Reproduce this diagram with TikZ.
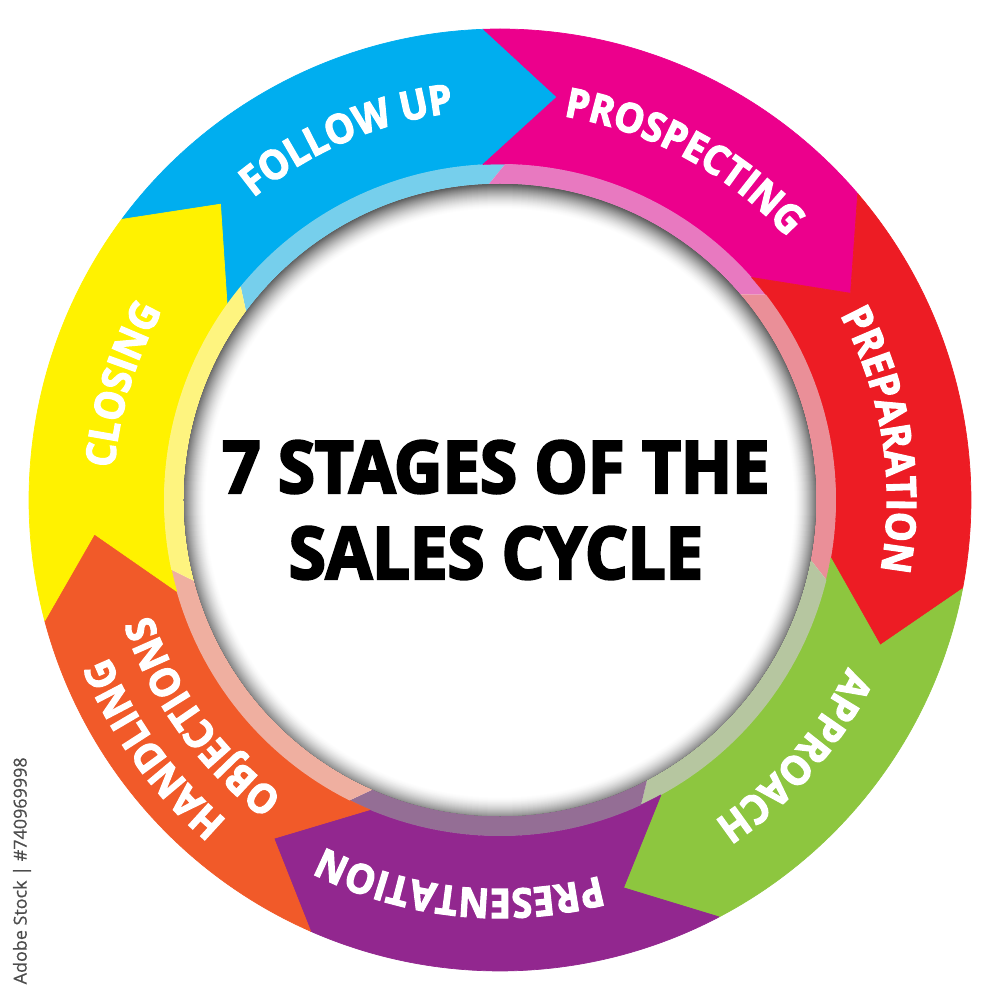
\documentclass[tikz,border=0pt]{standalone}
\usepackage{fontspec}
\setmainfont{Open Sans}
\newfontfamily\HeavyFont[FakeBold=2.8,FakeStretch=0.92]{Open Sans Bold}
\newfontfamily\TitleFont[FakeBold=3.5,FakeStretch=0.93]{Open Sans Bold}
\newfontfamily\CreditFont[FakeBold=0.5]{Open Sans}
\usetikzlibrary{decorations.text}
\definecolor{FollowCol}{HTML}{00AEEF}
\definecolor{ProspectCol}{HTML}{EC008C}
\definecolor{PrepareCol}{HTML}{ED1C24}
\definecolor{ApproachCol}{HTML}{8DC63F}
\definecolor{PresentCol}{HTML}{92278F}
\definecolor{HandleCol}{HTML}{F15A29}
\definecolor{CloseCol}{HTML}{FFF200}
\definecolor{FollowPale}{HTML}{76CFEC}
\definecolor{ProspectPale}{HTML}{E879C0}
\definecolor{PreparePale}{HTML}{EA8F98}
\definecolor{ApproachPale}{HTML}{B6C6A0}
\definecolor{PresentPale}{HTML}{946E95}
\definecolor{HandlePale}{HTML}{EFAFA0}
\definecolor{ClosePale}{HTML}{FEF47F}
\tikzstyle{Stage} = [line width=0.2pt, line join=round]
\tikzstyle{Title} = [font=\TitleFont\fontsize{20.5}{25}\selectfont]
\newcommand{\StageLabel}[3]{%
  \path[decorate, decoration={text along path, text align=center,
    text={|\HeavyFont\fontsize{11.6}{14}\selectfont\color{white}|#3}}]
    (#1+45:#2) arc[start angle=#1+45, end angle=#1-45, radius=#2];}

\begin{document}
\begin{tikzpicture}[scale=0.01]
    \useasboundingbox (-500,-500) rectangle (500,500);

    \foreach \head/\tone in {92/Follow, 40.57/Prospect, -10.86/Prepare,
        -62.29/Approach, -113.71/Present, -165.14/Handle, 143.43/Close} {
      \draw[Stage, draw=\tone Col, fill=\tone Col]
        (\head+51.43:471) arc[start angle=\head+51.43, end angle=\head, radius=471]
        -- (\head-10.05:407) -- (\head+0.9:336)
        arc[start angle=\head+0.9, end angle=\head+52.33, radius=336]
        -- (\head+41.38:407) -- cycle;
      \fill[\tone Pale]
        (\head-2.9:336) arc[start angle=\head-2.9, end angle=\head+48.53, radius=336]
        -- (\head+52.43:310)
        arc[start angle=\head+52.43, end angle=\head+1, radius=310] -- cycle;
    }

    \begin{scope}
      \clip (0,0) circle[radius=316];
      \fill[white] (0,0) circle[radius=316];
      \foreach \step in {0,...,52} {
        \pgfmathsetmacro{\ink}{68*(1-\step/52)^1.6}
        \fill[black!\ink!white] (0,-3) circle[radius=320-\step/2];
      }
    \end{scope}

    \node[Title] (title1) at (-4,33) {7 STAGES OF THE};
    \node[Title] (title2) at (-4,-53) {SALES CYCLE};

    \StageLabel{113}{390}{FOLLOW UP}
    \StageLabel{61.5}{389}{PROSPECTING}
    \StageLabel{9}{387}{PREPARATION}
    \StageLabel{-41}{386}{APPROACH}
    \StageLabel{-96}{389}{PRESENTATION}
    \StageLabel{-144.3}{421}{HANDLING}
    \StageLabel{-144}{367}{OBJECTIONS}
    \StageLabel{163}{387}{CLOSING}

    \node[font=\CreditFont\fontsize{5.1}{6}\selectfont, text=black!70, rotate=90,
        anchor=west, inner sep=0pt] (credit) at (-478,-485) {Adobe Stock | \#740969998};
\end{tikzpicture}
\end{document}
